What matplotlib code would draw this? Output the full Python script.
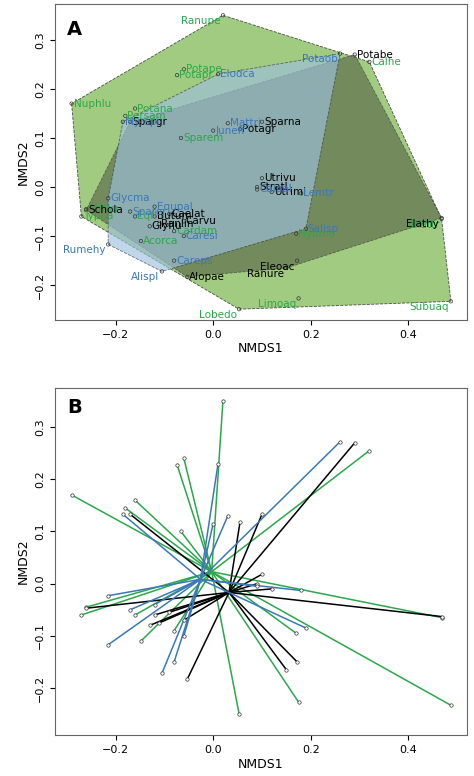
import numpy as np
import matplotlib
matplotlib.use("Agg")
import matplotlib.pyplot as plt

# species, x (NMDS1), y (NMDS2), group
green_names = ["Ranupe","Calhe","Subuaq","Lobedo","Nuphlu","Potape","Potapr","Potana","Persam","Sparem",
               "Phrau","Typha","Acorca","Limoaq","Elattr","Hydmo","Cardam","Eqflu"]
green_x = [0.02,0.32,0.487,0.053,-0.29,-0.06,-0.074,-0.16,-0.18,-0.066,-0.26,-0.27,-0.148,0.175,0.468,0.17,-0.08,-0.16]
green_y = [0.35,0.255,-0.233,-0.249,0.17,0.24,0.228,0.16,0.145,0.10,-0.045,-0.06,-0.11,-0.227,-0.065,-0.095,-0.09,-0.06]

black_names = ["Potabe","Elathy","Ranure","Alopae","Schola","Spargr","Sparna","Potagr","Utrivu","Utrimi",
               "Stratl","Eleoac","Butum","Caelat","Ranlin","Carvu","Glyflu"]
black_x = [0.29,0.468,0.15,-0.053,-0.26,-0.17,0.10,0.055,0.10,0.12,0.09,0.172,-0.12,-0.09,-0.11,-0.06,-0.13]
black_y = [0.27,-0.063,-0.165,-0.183,-0.047,0.133,0.133,0.118,0.018,-0.01,0.0,-0.15,-0.06,-0.055,-0.075,-0.07,-0.08]

blue_names = ["Potaob","Elodca","Rumehy","Alispl","Careps","Glycma","Lemtr","Salisp","Myrspi","Mattri",
              "Juneff","Calpal","Sparer","Caresi","Equpal"]
blue_x = [0.26,0.01,-0.215,-0.105,-0.08,-0.215,0.18,0.19,-0.185,0.03,0.0,0.09,-0.17,-0.06,-0.12]
blue_y = [0.272,0.23,-0.117,-0.172,-0.15,-0.023,-0.013,-0.085,0.133,0.13,0.115,-0.005,-0.05,-0.1,-0.04]

# labels drawn to the left of their point
left_labels = {"Ranupe","Subuaq","Lobedo","Elattr","Elathy","Rumehy","Alispl","Potaob","Eleoac","Ranure","Limoaq"}

groups = [
    (green_names, green_x, green_y, "#2aa84a", "#8fc26a"),
    (black_names, black_x, black_y, "#000000", "#555f45"),
    (blue_names, blue_x, blue_y, "#3a78b8", "#9ec0de"),
]

def hull(pts):
    pts = sorted(set(pts))
    def cross(o, a, b):
        return (a[0]-o[0])*(b[1]-o[1]) - (a[1]-o[1])*(b[0]-o[0])
    lo, up = [], []
    for p in pts:
        while len(lo) >= 2 and cross(lo[-2], lo[-1], p) <= 0:
            lo.pop()
        lo.append(p)
    for p in reversed(pts):
        while len(up) >= 2 and cross(up[-2], up[-1], p) <= 0:
            up.pop()
        up.append(p)
    return np.array(lo[:-1] + up[:-1])

fig = plt.figure(figsize=(4.74, 7.76), dpi=100)
axA = fig.add_axes([55/474, 1-320/776, 412/474, 316/776])
axB = fig.add_axes([55/474, 1-735/776, 412/474, 347/776])

alphas = [0.85, 0.6, 0.65]
for (names, xs, ys, tc, fc), al in zip(groups, alphas):
    h = hull(list(zip(xs, ys)))
    axA.fill(h[:, 0], h[:, 1], facecolor=fc, alpha=al, edgecolor="#333333", lw=0.6, ls="--")
for names, xs, ys, tc, fc in groups:
    axA.scatter(xs, ys, s=6, facecolors="none", edgecolors="#333333", lw=0.5, zorder=3)
    for n, x, y in zip(names, xs, ys):
        if n in left_labels:
            axA.text(x - 0.005, y - 0.012, n, color=tc, fontsize=7.5, ha="right", va="center", zorder=4)
        else:
            axA.text(x + 0.004, y, n, color=tc, fontsize=7.5, ha="left", va="center", zorder=4)

axA.set_xlim(-0.324, 0.52)
axA.set_ylim(-0.271, 0.373)
axA.set_xticks([-0.2, 0.0, 0.2, 0.4])
axA.set_yticks([-0.2, -0.1, 0.0, 0.1, 0.2, 0.3])
axA.set_xlabel("NMDS1", fontsize=9, labelpad=2)
axA.set_ylabel("NMDS2", fontsize=9)
axA.text(0.03, 0.95, "A", transform=axA.transAxes, fontsize=14, fontweight="bold", va="top")

for names, xs, ys, tc, fc in groups:
    cx, cy = np.mean(xs), np.mean(ys)
    for x, y in zip(xs, ys):
        axB.plot([cx, x], [cy, y], color=tc, lw=1.1)
    axB.scatter(xs, ys, s=6, facecolors="white", edgecolors="#333333", lw=0.5, zorder=3)
axB.set_xlim(-0.324, 0.52)
axB.set_ylim(-0.29, 0.375)
axB.set_xticks([-0.2, 0.0, 0.2, 0.4])
axB.set_yticks([-0.2, -0.1, 0.0, 0.1, 0.2, 0.3])
axB.set_xlabel("NMDS1", fontsize=9, labelpad=2)
axB.set_ylabel("NMDS2", fontsize=9)
axB.text(0.03, 0.97, "B", transform=axB.transAxes, fontsize=14, fontweight="bold", va="top")

for ax in (axA, axB):
    ax.tick_params(labelsize=8)
    for lbl in ax.get_yticklabels():
        lbl.set_rotation(90); lbl.set_va("center")
    for s in ax.spines.values():
        s.set_color("#666666")

fig.savefig("out.png", dpi=100)
